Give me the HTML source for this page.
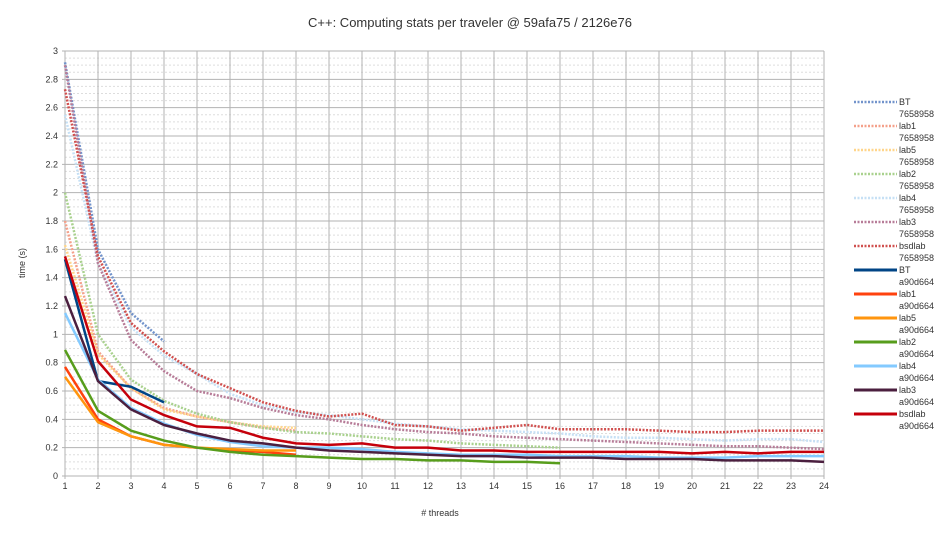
<!DOCTYPE html>
<html><head><meta charset="utf-8"><style>
body{margin:0;background:#fff;font-family:"Liberation Sans",sans-serif}
</style></head><body>
<svg id="chart" width="942" height="531" xmlns="http://www.w3.org/2000/svg" font-family="Liberation Sans, sans-serif">
<rect width="942" height="531" fill="#fff"/>
<text x="470" y="27" text-anchor="middle" font-size="13" fill="#333">C++: Computing stats per traveler @ 59afa75 / 2126e76</text>
<text x="440" y="516" text-anchor="middle" font-size="9" fill="#333"># threads</text>
<text transform="translate(25,263) rotate(-90)" text-anchor="middle" font-size="9" fill="#333">time (s)</text>
<g id="grid"></g><g id="series"></g><g id="legend"></g>
</svg>
<script>
const threads=[1,2,3,4,5,6,7,8,9,10,11,12,13,14,15,16,17,18,19,20,21,22,23,24];
const yTicks=[0,0.2,0.4,0.6,0.8,1,1.2,1.4,1.6,1.8,2,2.2,2.4,2.6,2.8,3];
const yTickLabels=["0","0.2","0.4","0.6","0.8","1","1.2","1.4","1.6","1.8","2","2.2","2.4","2.6","2.8","3"];
const seriesNames=["BT","lab1","lab5","lab2","lab4","lab3","bsdlab","BT","lab1","lab5","lab2","lab4","lab3","bsdlab"];
const seriesCommits=["7658958","7658958","7658958","7658958","7658958","7658958","7658958","a90d664","a90d664","a90d664","a90d664","a90d664","a90d664","a90d664"];
const bt1=[2.92,1.6,1.15,0.95];
const lab1_1=[1.8,0.88,0.62,0.48,0.42,0.38,0.34,0.32];
const lab5_1=[1.63,0.86,0.62,0.47,0.42,0.38,0.35,0.34];
const lab2_1=[2.0,1.0,0.68,0.53,0.44,0.38,0.34,0.31,0.3,0.28,0.26,0.25,0.23,0.22,0.21,0.2];
const lab4_1=[2.55,1.5,1.05,0.85,0.72,0.58,0.5,0.45,0.43,0.4,0.37,0.35,0.33,0.32,0.31,0.3,0.28,0.27,0.27,0.26,0.25,0.26,0.26,0.24];
const lab3_1=[2.9,1.5,0.96,0.74,0.6,0.55,0.48,0.43,0.4,0.36,0.33,0.31,0.3,0.28,0.27,0.26,0.25,0.24,0.23,0.22,0.21,0.21,0.2,0.19];
const bsd_1=[2.73,1.55,1.08,0.88,0.72,0.62,0.52,0.46,0.42,0.44,0.36,0.35,0.32,0.34,0.36,0.33,0.33,0.33,0.32,0.31,0.31,0.32,0.32,0.32];
const bt2=[1.53,0.67,0.63,0.52];
const lab1_2=[0.77,0.4,0.28,0.22,0.2,0.18,0.17,0.15];
const lab5_2=[0.7,0.38,0.28,0.22,0.2,0.19,0.18,0.18];
const lab2_2=[0.89,0.46,0.32,0.25,0.2,0.17,0.15,0.14,0.13,0.12,0.12,0.11,0.11,0.1,0.1,0.09];
const lab4_2=[1.15,0.68,0.48,0.37,0.29,0.24,0.21,0.2,0.2,0.19,0.17,0.16,0.15,0.15,0.15,0.14,0.14,0.14,0.13,0.13,0.13,0.14,0.14,0.14];
const lab3_2=[1.27,0.67,0.47,0.36,0.3,0.25,0.23,0.2,0.18,0.17,0.16,0.15,0.14,0.14,0.13,0.13,0.13,0.12,0.12,0.12,0.11,0.11,0.11,0.1];
const bsd_2=[1.55,0.81,0.54,0.43,0.35,0.34,0.27,0.23,0.22,0.23,0.2,0.2,0.18,0.18,0.17,0.17,0.17,0.17,0.17,0.16,0.17,0.16,0.17,0.17];
const allSeries=[bt1,lab1_1,lab5_1,lab2_1,lab4_1,lab3_1,bsd_1,bt2,lab1_2,lab5_2,lab2_2,lab4_2,lab3_2,bsd_2];
const colors=["#7293cb","#f4a08a","#ffd58a","#a9d18e","#c6e0f5","#b77c98","#d0504f","#004586","#ff420e","#ff950e","#579d1c","#83caff","#4b1f3f","#c5000b"];
const NS="http://www.w3.org/2000/svg";
const X0=65,X1=824,Y0=476,Y1=51;
const xs=t=>X0+(t-1)*(X1-X0)/23;
const ys=v=>Y0-v*(Y0-Y1)/3;
function mk(tag,a,p){const e=document.createElementNS(NS,tag);for(const k in a)e.setAttribute(k,a[k]);p.appendChild(e);return e;}
const grid=document.getElementById('grid');
for(let v=0.05;v<3;v+=0.05){if(Math.abs(v/0.2-Math.round(v/0.2))<1e-6)continue;
 const l=mk('line',{x1:X0,x2:X1,y1:ys(v),y2:ys(v),stroke:'#ddd','stroke-dasharray':'2,2','stroke-width':1},grid);
 
 }
yTicks.forEach((v,i)=>{const l=mk('line',{x1:X0-3,x2:X1,y1:ys(v),y2:ys(v),stroke:'#b3b3b3','stroke-width':1},grid);
 
 
 const t=mk('text',{x:X0-7,y:ys(v)+3,'text-anchor':'end','font-size':9,fill:'#333'},grid);t.textContent=yTickLabels[i];
 
 });
threads.forEach(t=>{const l=mk('line',{x1:xs(t),x2:xs(t),y1:Y1,y2:Y0+3,stroke:'#b3b3b3','stroke-width':1},grid);
 
 
 const tx=mk('text',{x:xs(t),y:Y0+13,'text-anchor':'middle','font-size':9,fill:'#333'},grid);tx.textContent=t;
 
 });
const sg=document.getElementById('series');
allSeries.forEach((d,i)=>{const dotted=i<7;
 const p=mk('polyline',{points:d.map((v,j)=>xs(threads[j])+','+ys(v)).join(' '),fill:'none',stroke:colors[i],'stroke-width':dotted?2.5:2.5,'stroke-dasharray':dotted?'2,1.5':'none','stroke-linejoin':'round'},sg);
 
 });
const lg=document.getElementById('legend');
seriesNames.forEach((n,i)=>{const y=102+i*24;
 const g=mk('g',{},lg);
 
 
 mk('line',{x1:854,x2:897,y1:y,y2:y,stroke:colors[i],'stroke-width':i<7?2.5:3,'stroke-dasharray':i<7?'2,1.5':'none'},g);
 const t1=mk('text',{x:899,y:y+3,'font-size':9,fill:'#333'},g);t1.textContent=n;
 const t2=mk('text',{x:899,y:y+15,'font-size':9,fill:'#333'},g);t2.textContent=seriesCommits[i];});
</script>
</body></html>
